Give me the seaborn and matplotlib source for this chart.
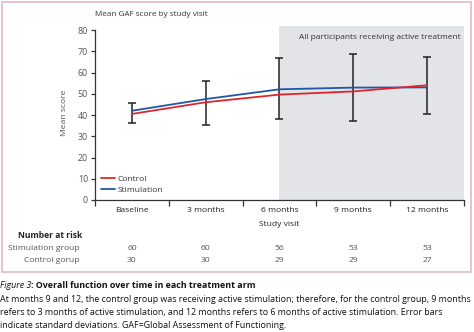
import numpy as np
import pandas as pd
import matplotlib
matplotlib.use("Agg")
import matplotlib.pyplot as plt
from matplotlib.patches import Rectangle
from matplotlib.lines import Line2D
import seaborn as sns

# Study visits and group means of the GAF score
visits = ["Baseline", "3 months", "6 months", "9 months", "12 months"]
stim_mean = [42.0, 47.5, 52.1, 52.9, 53.0]
ctrl_mean = [40.5, 46.0, 49.6, 51.1, 54.0]
# Standard-deviation range shown by the error bars
sd_low = [36.1, 35.3, 38.1, 37.3, 40.5]
sd_high = [45.8, 56.2, 66.8, 68.6, 67.4]
# Number at risk
n_stim = [60, 60, 56, 53, 53]
n_ctrl = [30, 30, 29, 29, 27]
y_ticks = [0, 10, 20, 30, 40, 50, 60, 70, 80]

sns.set_style("ticks")
plt.rcParams["font.family"] = ["Open Sans", "DejaVu Sans"]
plt.rcParams["axes.linewidth"] = 0.9

GREY = "#555555"
DARK = "#222222"
RED = "#e0262c"
BLUE = "#1f57a8"
FS = 6.1

pos = np.arange(len(visits))
df = pd.DataFrame({
    "visit": np.concatenate([pos, pos]),
    "score": stim_mean + ctrl_mean,
    "group": ["Stimulation"] * len(visits) + ["Control"] * len(visits),
})

fig = plt.figure(figsize=(4.74, 3.32), dpi=100)
ax = fig.add_axes([0.2004, 0.3976, 0.7785, 0.5248])

# Shaded period in which everyone was on active treatment
ax.axvspan(2, 4.5, color="#e2e4e8", lw=0, zorder=0)
ax.text(4.46, 76.7, "All participants receiving active treatment",
        ha="right", va="center", fontsize=6.0, color="#333333")

mid = (np.array(sd_low) + np.array(sd_high)) / 2
half = (np.array(sd_high) - np.array(sd_low)) / 2
ax.errorbar(pos, mid, yerr=half, fmt="none", ecolor="#222222",
            elinewidth=1.1, capsize=2.8, capthick=1.1, zorder=2)

sns.lineplot(data=df, x="visit", y="score", hue="group",
             palette={"Control": RED, "Stimulation": BLUE},
             hue_order=["Stimulation", "Control"], linewidth=1.3,
             sort=False, legend=False, ax=ax, zorder=3)

ax.set_xlim(-0.5, 4.5)
ax.set_ylim(0, 82)
ax.set_yticks(y_ticks)
ax.set_yticklabels([str(v) for v in y_ticks], fontsize=6.4, color=GREY)
ax.set_xticks(np.arange(-0.5, 5.0, 1.0))
ax.set_xticklabels([])
ax.set_xticks(pos, minor=True)
ax.set_xticklabels(visits, minor=True, fontsize=FS, color=DARK)
ax.tick_params(axis="x", which="minor", length=0, pad=5)
ax.tick_params(axis="x", which="major", length=4, width=0.9, color="#333333")
ax.tick_params(axis="y", length=3, width=0.9, color="#333333", pad=2)
sns.despine(ax=ax)
ax.spines["left"].set_bounds(0, 80)
ax.spines["left"].set_color("#333333")
ax.spines["bottom"].set_color("#333333")

ax.set_ylabel("Mean score", fontsize=FS, color=GREY, labelpad=7)
ax.set_xlabel("Study visit", fontsize=FS, color=DARK, labelpad=5)

fig.text(95 / 474, 1 - 14 / 332, "Mean GAF score by study visit",
         fontsize=5.9, color="#333333", ha="left", va="center")

# Legend
handles = [Line2D([], [], color=RED, lw=1.3), Line2D([], [], color=BLUE, lw=1.3)]
ax.legend(handles, ["Control", "Stimulation"], loc="lower left",
          bbox_to_anchor=(0.0, 0.0), frameon=False, fontsize=FS,
          handlelength=1.6, handletextpad=0.3, labelspacing=0.35,
          borderaxespad=0.35, labelcolor="#333333")

# Number-at-risk table
def fy(py):
    return 1 - py / 332

fig.text(82 / 474, fy(236), "Number at risk", fontsize=FS, weight="bold",
         color=DARK, ha="right", va="center")
fig.text(80 / 474, fy(248), "Stimulation group", fontsize=FS, color=GREY,
         ha="right", va="center")
fig.text(80 / 474, fy(261), "Control gorup", fontsize=FS, color=GREY,
         ha="right", va="center")
trans = matplotlib.transforms.blended_transform_factory(ax.transData, fig.transFigure)
for i in range(len(visits)):
    ax.text(pos[i], fy(248), str(n_stim[i]), transform=trans, fontsize=FS,
            color=GREY, ha="center", va="center")
    ax.text(pos[i], fy(261), str(n_ctrl[i]), transform=trans, fontsize=FS,
            color=GREY, ha="center", va="center")

# Pink frame around the figure panel
PINK = "#e8c2d3"
fig.patches.append(Rectangle((1.5 / 474, fy(272)), 469.5 / 474, (272 - 1.5) / 332,
                             transform=fig.transFigure, fill=False,
                             edgecolor=PINK, lw=1.4))

# Caption
CFS = 6.4
x0 = 0.0
t1 = fig.text(x0, fy(285), "Figure 3", fontsize=CFS, style="italic",
              color="#111111", ha="left", va="center")
fig.canvas.draw()
bb = t1.get_window_extent()
fig.text(bb.x1 / fig.bbox.width, fy(285),
         ": Overall function over time in each treatment arm",
         fontsize=CFS, weight="bold", color="#111111", ha="left", va="center")
caption = [
    "At months 9 and 12, the control group was receiving active stimulation; therefore, for the control group, 9 months",
    "refers to 3 months of active stimulation, and 12 months refers to 6 months of active stimulation. Error bars",
    "indicate standard deviations. GAF=Global Assessment of Functioning.",
]
for k, line in enumerate(caption):
    fig.text(x0, fy(299 + 13.5 * k), line, fontsize=CFS, color="#111111",
             ha="left", va="center")

fig.savefig("out.png", dpi=100)
